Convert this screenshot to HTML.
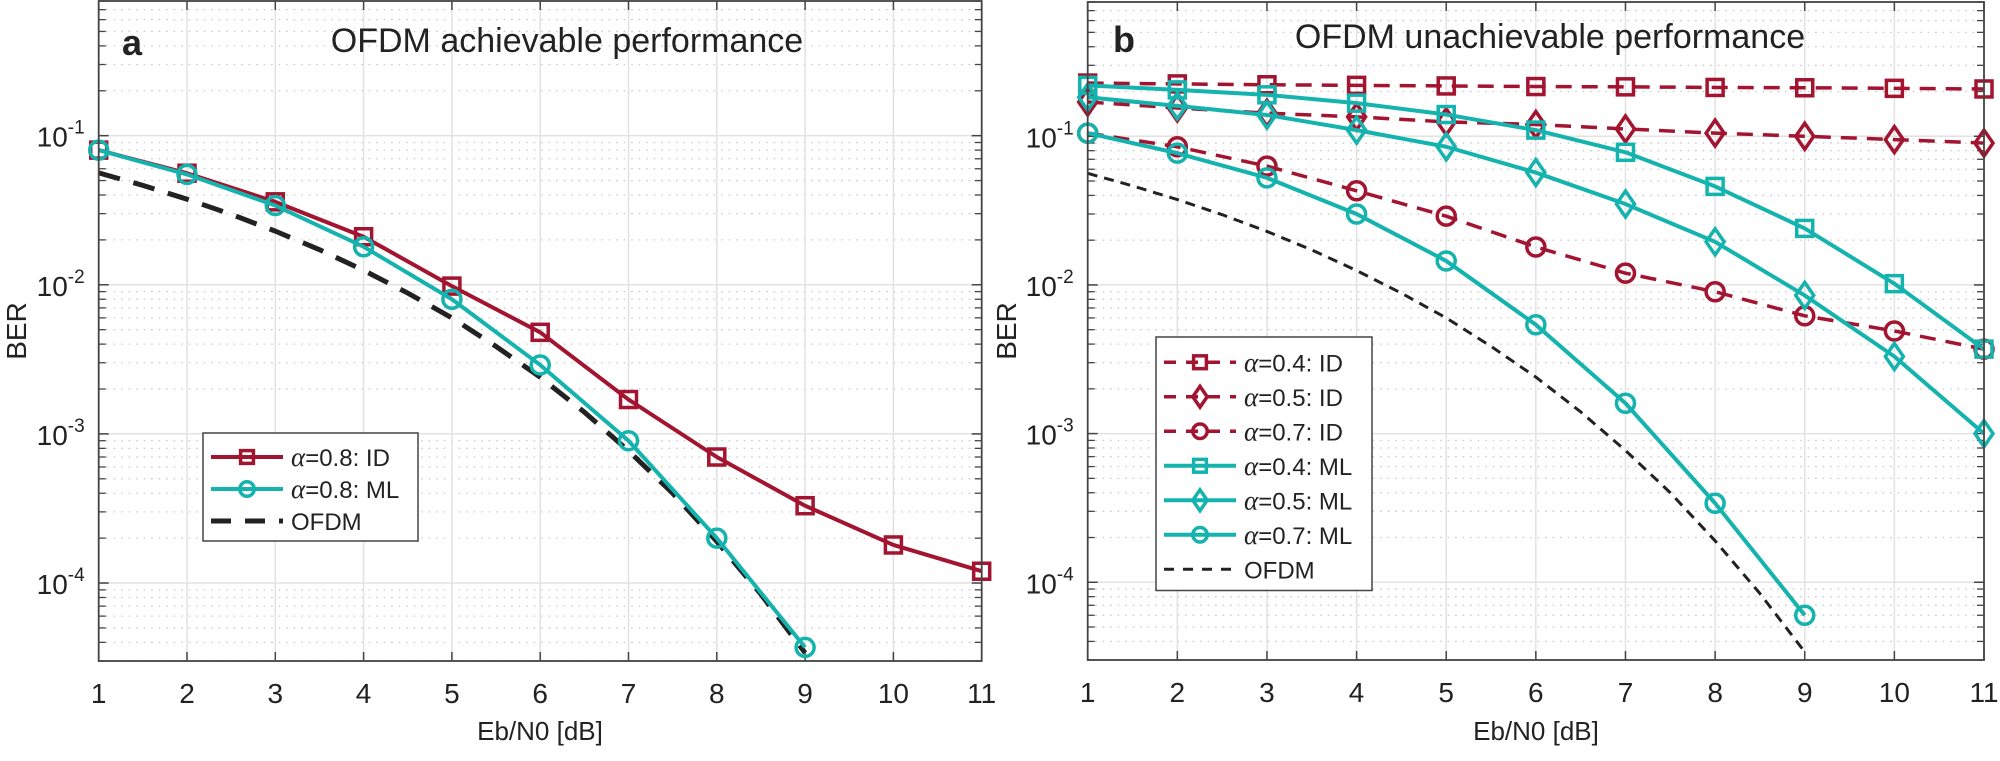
<!DOCTYPE html>
<html><head><meta charset="utf-8"><style>
html,body{margin:0;padding:0;background:#fff;}
svg{display:block;font-family:"Liberation Sans",Arial,sans-serif;}
</style></head><body>
<svg id="fig" width="2000" height="761" viewBox="0 0 2000 761" xmlns="http://www.w3.org/2000/svg"></svg>
<script>
// ---- data ----
const xTicks = [1,2,3,4,5,6,7,8,9,10,11];
const yDecades = [-1,-2,-3,-4];
const snrA = [1,2,3,4,5,6,7,8,9,10,11];
const idA08 = [0.08,0.056,0.036,0.021,0.0098,0.0048,0.0017,0.0007,0.00033,0.00018,0.00012];
const mlA08 = [0.08,0.055,0.034,0.018,0.008,0.0029,0.0009,0.0002,0.000037];
const ofdmX = [1,1.5,2,2.5,3,3.5,4,4.5,5,5.5,6,6.5,7,7.5,8,8.5,9];
const ofdmY = [0.0563,0.0464,0.0375,0.0297,0.0229,0.0172,0.0125,0.0088,0.006,0.00386,0.0024,0.0014,0.00077,0.0004,0.00019,0.000084,0.000034];
const id04 = [0.228,0.225,0.222,0.22,0.218,0.216,0.215,0.213,0.212,0.21,0.208];
const id05 = [0.17,0.155,0.143,0.135,0.125,0.12,0.112,0.105,0.1,0.095,0.09];
const id07 = [0.105,0.085,0.063,0.043,0.029,0.018,0.012,0.009,0.0062,0.0049,0.0037];
const ml04 = [0.22,0.205,0.19,0.167,0.14,0.11,0.078,0.046,0.024,0.0102,0.0037];
const ml05 = [0.183,0.16,0.139,0.11,0.085,0.057,0.035,0.0195,0.0085,0.0033,0.001];
const ml07 = [0.105,0.077,0.0525,0.03,0.0145,0.0054,0.0016,0.00034,0.00006];

const RED="#a2142f", TEAL="#14b3ae", NS="http://www.w3.org/2000/svg";
const svg=document.getElementById('fig');
function mk(tag,attrs,parent){const e=document.createElementNS(NS,tag);for(const k in attrs)e.setAttribute(k,attrs[k]);(parent||svg).appendChild(e);return e;}

const YMIN=Math.log10(3e-5), YMAX=Math.log10(0.8);
function makeAxes(x0,x1,y0,y1){
  return {sx:v=>x0+(v-1)/10*(x1-x0), sy:v=>y1-(Math.log10(v)-YMIN)/(YMAX-YMIN)*(y1-y0), x0,x1,y0,y1};
}
function drawFrame(ax,g){
  // minor grid
  for(let d=-5;d<=0;d++){for(let m=2;m<=9;m++){const v=m*Math.pow(10,d);if(v<3e-5-1e-12||v>0.8+1e-9)continue;const y=ax.sy(v);
    const l=mk('line',{x1:ax.x0,x2:ax.x1,y1:y,y2:y,stroke:'#c8c8c8','stroke-width':1.3,'stroke-dasharray':'1.5,6'},g);
    
    mk('line',{x1:ax.x0,x2:ax.x0+7,y1:y,y2:y,stroke:'#444','stroke-width':1.3},g);
    mk('line',{x1:ax.x1,x2:ax.x1-7,y1:y,y2:y,stroke:'#444','stroke-width':1.3},g);}}
  xTicks.forEach(t=>{const x=ax.sx(t);
    const l=mk('line',{x1:x,x2:x,y1:ax.y0,y2:ax.y1,stroke:'#e2e2e2','stroke-width':1.5},g);
    
    mk('line',{x1:x,x2:x,y1:ax.y1,y2:ax.y1-9,stroke:'#444','stroke-width':1.5},g);
    mk('line',{x1:x,x2:x,y1:ax.y0,y2:ax.y0+9,stroke:'#444','stroke-width':1.5},g);
    const tx=mk('text',{x:x,y:ax.y1+42,'font-size':28,'text-anchor':'middle',fill:'#222'},g);tx.textContent=t;
    
  });
  yDecades.forEach(d=>{const y=ax.sy(Math.pow(10,d));
    const l=mk('line',{x1:ax.x0,x2:ax.x1,y1:y,y2:y,stroke:'#e2e2e2','stroke-width':1.5},g);
    
    mk('line',{x1:ax.x0,x2:ax.x0+10,y1:y,y2:y,stroke:'#444','stroke-width':1.5},g);
    mk('line',{x1:ax.x1,x2:ax.x1-10,y1:y,y2:y,stroke:'#444','stroke-width':1.5},g);
    const tx=mk('text',{x:ax.x0-14,y:y+11,'font-size':28,'text-anchor':'end',fill:'#222'},g);
    
    const a=mk('tspan',{},tx);a.textContent='10';const b=mk('tspan',{'font-size':19,dy:-13},tx);b.textContent=String(d);
  });
}
function drawBox(ax,g){const r=mk('rect',{x:ax.x0,y:ax.y0,width:ax.x1-ax.x0,height:ax.y1-ax.y0,fill:'none',stroke:'#444','stroke-width':1.8},g);
  }
function marker(type,x,y,color,g,s){s=s||1;
  if(type==='sq')return mk('rect',{x:x-8*s,y:y-8*s,width:16*s,height:16*s,fill:'none',stroke:color,'stroke-width':3.5},g);
  if(type==='ci')return mk('circle',{cx:x,cy:y,r:9*s,fill:'none',stroke:color,'stroke-width':3.5},g);
  if(type==='di')return mk('polygon',{points:`${x},${y-13*s} ${x+9*s},${y} ${x},${y+13*s} ${x-9*s},${y}`,fill:'none',stroke:color,'stroke-width':3.5},g);
}
function series(ax,xs,ys,color,dash,mtype,name,g,w){
  const gg=mk('g',{},g);
  const pts=ys.map((v,i)=>ax.sx(xs[i])+','+ax.sy(v)).join(' ');
  const a={points:pts,fill:'none',stroke:color,'stroke-width':w||4,'stroke-linejoin':'round'};if(dash)a['stroke-dasharray']=dash;
  mk('polyline',a,gg);
  if(mtype)ys.forEach((v,i)=>{const m=marker(mtype,ax.sx(xs[i]),ax.sy(v),color,gg);});
}
function legend(g,x,y,w,rows,rowH,lineLen){
  const lg=mk('g',{},g);
  mk('rect',{x:x,y:y,width:w,height:rows.length*rowH+12,fill:'#fff',stroke:'#444','stroke-width':1.5},lg);
  rows.forEach((r,i)=>{const cy=y+6+rowH*(i+0.5)+2;
    const e=mk('g',{},lg);
    const a={x1:x+8,x2:x+8+lineLen,y1:cy,y2:cy,stroke:r.c,'stroke-width':r.w||4};if(r.d)a['stroke-dasharray']=r.d;mk('line',a,e);
    if(r.m)marker(r.m,x+8+lineLen/2,cy,r.c,e,0.8);
    const t=mk('text',{x:x+lineLen+16,y:cy+9,'font-size':24,fill:'#222'},e);
    if(r.a){const s=mk('tspan',{'font-family':'"Liberation Serif",serif','font-style':'italic','font-size':27},t);s.textContent='α';const s2=mk('tspan',{},t);s2.textContent=r.t;}
    else t.textContent=r.t;
  });
}

// ---- panel a ----
const gA=mk('g',{});
const A=makeAxes(98.7,981.7,1,661);
drawFrame(A,gA);
series(A,ofdmX,ofdmY,'#222','22,14',null,'ofdm-line-a',gA,5);
series(A,snrA,idA08,RED,null,'sq','id-alpha-0.8',gA);
series(A,snrA.slice(0,mlA08.length),mlA08,TEAL,null,'ci','ml-alpha-0.8',gA);
drawBox(A,gA);
legend(gA,203,433,215,[{c:RED,m:'sq',a:1,t:'=0.8: ID'},{c:TEAL,m:'ci',a:1,t:'=0.8: ML'},{c:'#222',d:'20,14',w:5,t:'OFDM'}],32,72);
let t=mk('text',{x:122,y:55,'font-size':36,'font-weight':'bold',fill:'#222'},gA);t.textContent='a';
t=mk('text',{x:567,y:52,'font-size':34,'text-anchor':'middle',fill:'#222'},gA);t.textContent='OFDM achievable performance';
t=mk('text',{x:540,y:740,'font-size':26,'text-anchor':'middle',fill:'#222'},gA);t.textContent='Eb/N0 [dB]';
t=mk('text',{x:0,y:0,'font-size':28,'text-anchor':'middle',fill:'#222',transform:'translate(26,331) rotate(-90)'},gA);t.textContent='BER';

// ---- panel b ----
const gB=mk('g',{});
const B=makeAxes(1087.7,1984,2,660);
drawFrame(B,gB);
series(B,ofdmX,ofdmY,'#222','10,7',null,'ofdm-line-b',gB,3);
series(B,snrA,id04,RED,'16,10','sq','id-alpha-0.4',gB,3.5);
series(B,snrA,id05,RED,'16,10','di','id-alpha-0.5',gB,3.5);
series(B,snrA,id07,RED,'16,10','ci','id-alpha-0.7',gB,3.5);
series(B,snrA,ml04,TEAL,null,'sq','ml-alpha-0.4',gB);
series(B,snrA,ml05,TEAL,null,'di','ml-alpha-0.5',gB);
series(B,snrA.slice(0,ml07.length),ml07,TEAL,null,'ci','ml-alpha-0.7',gB);
drawBox(B,gB);
legend(gB,1156,337,216,[
 {c:RED,m:'sq',d:'12,10',w:3.5,a:1,t:'=0.4: ID'},{c:RED,m:'di',d:'12,10',w:3.5,a:1,t:'=0.5: ID'},{c:RED,m:'ci',d:'12,10',w:3.5,a:1,t:'=0.7: ID'},
 {c:TEAL,m:'sq',a:1,t:'=0.4: ML'},{c:TEAL,m:'di',a:1,t:'=0.5: ML'},{c:TEAL,m:'ci',a:1,t:'=0.7: ML'},{c:'#222',d:'10,9',w:3,t:'OFDM'}],34.5,72);
t=mk('text',{x:1113,y:52,'font-size':36,'font-weight':'bold',fill:'#222'},gB);t.textContent='b';
t=mk('text',{x:1550,y:48,'font-size':34,'text-anchor':'middle',fill:'#222'},gB);t.textContent='OFDM unachievable performance';
t=mk('text',{x:1536,y:740,'font-size':26,'text-anchor':'middle',fill:'#222'},gB);t.textContent='Eb/N0 [dB]';
t=mk('text',{x:0,y:0,'font-size':28,'text-anchor':'middle',fill:'#222',transform:'translate(1016,331) rotate(-90)'},gB);t.textContent='BER';
</script>
</body></html>
